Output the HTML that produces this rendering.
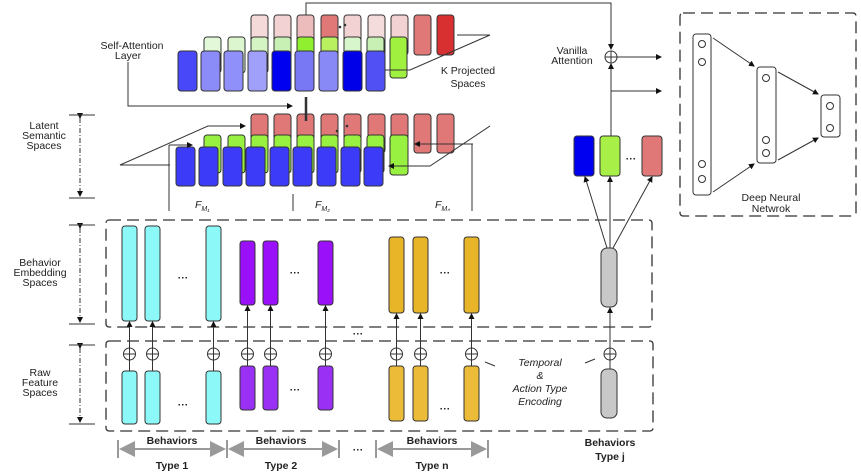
<!DOCTYPE html>
<html><head><style>body{margin:0;background:#fff}svg{display:block}text{font-family:"Liberation Sans",sans-serif;font-size:10.5px;fill:#222}</style></head><body>
<svg width="861" height="472" viewBox="0 0 861 472" xmlns="http://www.w3.org/2000/svg">
<defs><marker id="a" markerWidth="6" markerHeight="6" refX="5" refY="3" orient="auto"><path d="M0,0L6,3L0,6z" fill="#111"/></marker>
<marker id="g" markerWidth="8" markerHeight="8" refX="7" refY="4" orient="auto"><path d="M0,0L8,4L0,8z" fill="#999"/></marker>
<marker id="g2" markerWidth="8" markerHeight="8" refX="1" refY="4" orient="auto"><path d="M8,0L0,4L8,8z" fill="#999"/></marker>
<g id="p" stroke="#333" fill="#fff"><circle cx="0" cy="0" r="6"/><path d="M-6,0H6M0,-6V6"/></g></defs>
<g stroke="#333" stroke-width="1">
<g>
<rect x="251" y="15" width="17" height="40" rx="3" fill="#f5dada"/><rect x="274" y="15" width="17" height="40" rx="3" fill="#f2d2d2"/><rect x="297" y="15" width="17" height="40" rx="3" fill="#ecbcbc"/><rect x="321" y="15" width="17" height="40" rx="3" fill="#e07878"/><rect x="344" y="15" width="17" height="40" rx="3" fill="#f2d2d2"/><rect x="368" y="15" width="17" height="40" rx="3" fill="#f5dcdc"/><rect x="391" y="15" width="17" height="40" rx="3" fill="#f2d2d2"/><rect x="414" y="15" width="17" height="40" rx="3" fill="#e07878"/><rect x="437" y="15" width="17" height="40" rx="3" fill="#d83030"/>
<rect x="204" y="37" width="17" height="36" rx="3" fill="#e2f8d8"/><rect x="228" y="37" width="17" height="36" rx="3" fill="#dcf6d0"/><rect x="251" y="37" width="17" height="36" rx="3" fill="#d4f4c4"/><rect x="274" y="37" width="17" height="36" rx="3" fill="#c8f0b4"/><rect x="297" y="37" width="17" height="36" rx="3" fill="#90f030"/><rect x="321" y="37" width="17" height="36" rx="3" fill="#b8f060"/><rect x="344" y="37" width="17" height="36" rx="3" fill="#d8f6cc"/><rect x="367" y="37" width="17" height="36" rx="3" fill="#c8f0b4"/><rect x="390" y="37" width="17" height="41" rx="3" fill="#a0f040"/>
<rect x="178" y="51" width="19" height="40" rx="3" fill="#4848f8"/><rect x="201" y="51" width="19" height="40" rx="3" fill="#8c8cf8"/><rect x="224" y="51" width="19" height="40" rx="3" fill="#9090fa"/><rect x="248" y="51" width="19" height="40" rx="3" fill="#a0a0fa"/><rect x="272" y="51" width="19" height="40" rx="3" fill="#0000f0"/><rect x="295" y="51" width="19" height="40" rx="3" fill="#7878f4"/><rect x="319" y="51" width="19" height="40" rx="3" fill="#8888f6"/><rect x="343" y="51" width="19" height="40" rx="3" fill="#0000e8"/><rect x="366" y="51" width="19" height="40" rx="3" fill="#5050f4"/>
<polyline points="457,35 490,35 410,70 385,70" fill="none"/>
</g>
<g>
<rect x="251" y="114" width="17" height="39" rx="3" fill="#e07878"/><rect x="274" y="114" width="17" height="39" rx="3" fill="#e07878"/><rect x="297" y="114" width="17" height="39" rx="3" fill="#e07878"/><rect x="321" y="114" width="17" height="39" rx="3" fill="#e07878"/><rect x="344" y="114" width="17" height="39" rx="3" fill="#e07878"/><rect x="368" y="114" width="17" height="39" rx="3" fill="#e07878"/><rect x="391" y="114" width="17" height="39" rx="3" fill="#e07878"/><rect x="414" y="114" width="17" height="39" rx="3" fill="#e07878"/><rect x="437" y="114" width="17" height="39" rx="3" fill="#e07878"/>
<rect x="204" y="135" width="17" height="38" rx="3" fill="#98f040"/><rect x="228" y="135" width="17" height="38" rx="3" fill="#98f040"/><rect x="251" y="135" width="17" height="38" rx="3" fill="#98f040"/><rect x="274" y="135" width="17" height="38" rx="3" fill="#98f040"/><rect x="297" y="135" width="17" height="38" rx="3" fill="#98f040"/><rect x="321" y="135" width="17" height="38" rx="3" fill="#98f040"/><rect x="344" y="135" width="17" height="38" rx="3" fill="#98f040"/><rect x="367" y="135" width="17" height="38" rx="3" fill="#98f040"/><rect x="390" y="135" width="18" height="40" rx="3" fill="#98f040"/>
<rect x="176" y="147" width="19" height="39" rx="3" fill="#3c3cf8"/><rect x="199" y="147" width="19" height="39" rx="3" fill="#3c3cf8"/><rect x="223" y="147" width="19" height="39" rx="3" fill="#3c3cf8"/><rect x="246" y="147" width="19" height="39" rx="3" fill="#3c3cf8"/><rect x="270" y="147" width="19" height="39" rx="3" fill="#3c3cf8"/><rect x="293" y="147" width="19" height="39" rx="3" fill="#3c3cf8"/><rect x="317" y="147" width="19" height="39" rx="3" fill="#3c3cf8"/><rect x="341" y="147" width="19" height="39" rx="3" fill="#3c3cf8"/><rect x="364" y="147" width="19" height="39" rx="3" fill="#3c3cf8"/>
<polyline points="170,165 120,165 208,126 245,126" fill="none" marker-end="url(#a)"/>
<line x1="169" y1="145" x2="192" y2="145" marker-end="url(#a)"/>
<polyline points="490,126 430,166 389,166" fill="none" marker-end="url(#a)"/>
<line x1="473" y1="144" x2="415" y2="144" marker-end="url(#a)"/>
<line x1="169" y1="145" x2="169" y2="211"/><line x1="293" y1="194" x2="293" y2="211"/><line x1="472" y1="144" x2="472" y2="211"/>
</g>
<polyline points="128,62 128,106 292,106" fill="none" marker-end="url(#a)"/>
<line x1="306" y1="97" x2="306" y2="121" stroke-width="2.5"/>
<polyline points="306,15 306,3 611,3 611,49" fill="none" marker-end="url(#a)"/>
<g stroke-dasharray="5,2,1,2"><line x1="80" y1="118" x2="80" y2="196" marker-end="url(#a)" marker-start="url(#a)"/><line x1="80" y1="228" x2="80" y2="322" marker-end="url(#a)" marker-start="url(#a)"/><line x1="80" y1="348" x2="80" y2="422" marker-end="url(#a)" marker-start="url(#a)"/></g>
<g><line x1="69" y1="115" x2="95" y2="115"/><line x1="69" y1="198" x2="95" y2="198"/><line x1="69" y1="225" x2="95" y2="225"/><line x1="69" y1="324" x2="95" y2="324"/><line x1="69" y1="345" x2="95" y2="345"/><line x1="69" y1="424" x2="95" y2="424"/></g>
<g fill="none" stroke-dasharray="12,6" stroke-width="1.3"><rect x="106" y="220" width="546" height="107" rx="3"/><rect x="106" y="341" width="547" height="90" rx="3"/><rect x="680" y="13" width="176" height="203" rx="3"/></g>
<g>
<rect x="122" y="226" width="15" height="95" rx="3" fill="#8cf8f8"/><rect x="145" y="226" width="15" height="95" rx="3" fill="#8cf8f8"/><rect x="206" y="226" width="15" height="95" rx="3" fill="#8cf8f8"/>
<rect x="122" y="371" width="15" height="53" rx="3" fill="#8cf8f8"/><rect x="145" y="371" width="15" height="53" rx="3" fill="#8cf8f8"/><rect x="206" y="371" width="15" height="53" rx="3" fill="#8cf8f8"/>
<rect x="240" y="241" width="15" height="64" rx="3" fill="#9a10f8"/><rect x="263" y="241" width="15" height="64" rx="3" fill="#9a10f8"/><rect x="318" y="241" width="15" height="64" rx="3" fill="#9a10f8"/>
<rect x="240" y="366" width="15" height="44" rx="3" fill="#9a30f4"/><rect x="263" y="366" width="15" height="44" rx="3" fill="#9a30f4"/><rect x="318" y="366" width="15" height="44" rx="3" fill="#9a30f4"/>
<rect x="389" y="237" width="15" height="76" rx="3" fill="#e8b428"/><rect x="413" y="237" width="15" height="76" rx="3" fill="#e8b428"/><rect x="464" y="237" width="15" height="76" rx="3" fill="#e8b428"/>
<rect x="389" y="366" width="15" height="55" rx="3" fill="#ecbc38"/><rect x="413" y="366" width="15" height="55" rx="3" fill="#ecbc38"/><rect x="464" y="366" width="15" height="55" rx="3" fill="#ecbc38"/>
</g>
<g>
<line x1="129.5" y1="348" x2="129.5" y2="322" marker-end="url(#a)"/><line x1="152.5" y1="348" x2="152.5" y2="322" marker-end="url(#a)"/><line x1="213.5" y1="348" x2="213.5" y2="322" marker-end="url(#a)"/>
<line x1="247.5" y1="348" x2="247.5" y2="306" marker-end="url(#a)"/><line x1="270.5" y1="348" x2="270.5" y2="306" marker-end="url(#a)"/><line x1="325.5" y1="348" x2="325.5" y2="306" marker-end="url(#a)"/>
<line x1="396.5" y1="348" x2="396.5" y2="314" marker-end="url(#a)"/><line x1="420.5" y1="348" x2="420.5" y2="314" marker-end="url(#a)"/><line x1="471.5" y1="348" x2="471.5" y2="314" marker-end="url(#a)"/>
<line x1="129.5" y1="360" x2="129.5" y2="371"/><line x1="152.5" y1="360" x2="152.5" y2="371"/><line x1="213.5" y1="360" x2="213.5" y2="371"/><line x1="247.5" y1="360" x2="247.5" y2="366"/><line x1="270.5" y1="360" x2="270.5" y2="366"/><line x1="325.5" y1="360" x2="325.5" y2="366"/><line x1="396.5" y1="360" x2="396.5" y2="366"/><line x1="420.5" y1="360" x2="420.5" y2="366"/><line x1="471.5" y1="360" x2="471.5" y2="366"/>
<use href="#p" x="129.5" y="354"/><use href="#p" x="152.5" y="354"/><use href="#p" x="213.5" y="354"/><use href="#p" x="247.5" y="354"/><use href="#p" x="270.5" y="354"/><use href="#p" x="325.5" y="354"/><use href="#p" x="396.5" y="354"/><use href="#p" x="420.5" y="354"/><use href="#p" x="471.5" y="354"/><use href="#p" x="610" y="354"/><use href="#p" x="611" y="57"/>
</g>
<rect x="601" y="248" width="16" height="59" rx="6" fill="#c8c8c8"/><rect x="601" y="369" width="16" height="49" rx="6" fill="#c8c8c8"/>
<line x1="610" y1="348" x2="610" y2="308" marker-end="url(#a)"/><line x1="610" y1="360" x2="610" y2="369"/>
<rect x="574" y="136" width="20" height="40" rx="3" fill="#0000f0"/><rect x="600" y="136" width="20" height="40" rx="3" fill="#a8f048"/><rect x="642" y="136" width="20" height="40" rx="3" fill="#e07878"/>
<line x1="607" y1="248" x2="585" y2="177" marker-end="url(#a)"/><line x1="610" y1="248" x2="610" y2="177" marker-end="url(#a)"/><line x1="613" y1="248" x2="652" y2="177" marker-end="url(#a)"/>
<line x1="611" y1="136" x2="611" y2="64" marker-end="url(#a)"/>
<line x1="611" y1="91" x2="661" y2="91" marker-end="url(#a)"/><line x1="617" y1="57" x2="661" y2="57" marker-end="url(#a)"/>
<rect x="693" y="34" width="18" height="161" rx="3" fill="#fff"/><rect x="757" y="67" width="19" height="96" rx="3" fill="#fff"/><rect x="821" y="95" width="19" height="42" rx="3" fill="#fff"/>
<g fill="#fff"><circle cx="702" cy="44" r="3.5"/><circle cx="702" cy="62" r="3.5"/><circle cx="702" cy="164" r="3.5"/><circle cx="702" cy="179" r="3.5"/><circle cx="766" cy="78" r="3.5"/><circle cx="766" cy="140" r="3.5"/><circle cx="766" cy="153" r="3.5"/><circle cx="830" cy="106" r="3.5"/><circle cx="830" cy="128" r="3.5"/></g>
<line x1="713" y1="38" x2="754" y2="66" marker-end="url(#a)"/><line x1="713" y1="192" x2="754" y2="164" marker-end="url(#a)"/><line x1="778" y1="72" x2="818" y2="94" marker-end="url(#a)"/><line x1="778" y1="160" x2="818" y2="138" marker-end="url(#a)"/>
<line x1="485" y1="362" x2="495" y2="366"/><line x1="585" y1="363" x2="595" y2="359"/>
<g stroke="#999" stroke-width="2"><line x1="118" y1="440" x2="118" y2="458"/><line x1="227" y1="440" x2="227" y2="458"/><line x1="339" y1="440" x2="339" y2="458"/><line x1="376" y1="440" x2="376" y2="458"/><line x1="488" y1="440" x2="488" y2="458"/>
<line x1="121" y1="449" x2="224" y2="449" marker-end="url(#g)" marker-start="url(#g2)"/><line x1="230" y1="449" x2="336" y2="449" marker-end="url(#g)" marker-start="url(#g2)"/><line x1="379" y1="449" x2="485" y2="449" marker-end="url(#g)" marker-start="url(#g2)"/></g>
</g>
<g fill="#333"><circle cx="340" cy="27" r="1.3"/><circle cx="345" cy="25" r="1.3"/><circle cx="337" cy="131" r="1.3"/><circle cx="347" cy="126" r="1.3"/></g>
<text x="132" y="49" text-anchor="middle">Self-Attention</text><text x="128" y="59" text-anchor="middle">Layer</text>
<text x="468" y="74" text-anchor="middle" font-size="12.5">K Projected</text><text x="468" y="87" text-anchor="middle" font-size="12.5">Spaces</text>
<text x="44" y="129" text-anchor="middle">Latent</text><text x="44" y="139" text-anchor="middle">Semantic</text><text x="44" y="149" text-anchor="middle">Spaces</text>
<text x="40" y="266" text-anchor="middle">Behavior</text><text x="40" y="276" text-anchor="middle">Embedding</text><text x="40" y="286" text-anchor="middle">Spaces</text>
<text x="40" y="376" text-anchor="middle">Raw</text><text x="40" y="386" text-anchor="middle">Feature</text><text x="40" y="396" text-anchor="middle">Spaces</text>
<text x="195" y="208" font-style="italic">F<tspan font-size="7" dy="3">M₁</tspan></text>
<text x="315" y="208" font-style="italic">F<tspan font-size="7" dy="3">M₂</tspan></text>
<text x="435" y="208" font-style="italic">F<tspan font-size="7" dy="3">Mₙ</tspan></text>
<g font-size="14" font-weight="bold" text-anchor="middle"><text x="183" y="281">···</text><text x="295" y="276">···</text><text x="445" y="276">···</text><text x="183" y="408">···</text><text x="295" y="393">···</text><text x="445" y="412">···</text><text x="358" y="337">···</text><text x="358" y="453">···</text><text x="631" y="162">···</text></g>
<g font-weight="bold" text-anchor="middle"><text x="172" y="444">Behaviors</text><text x="172" y="469">Type 1</text><text x="281" y="444">Behaviors</text><text x="281" y="469">Type 2</text><text x="432" y="444">Behaviors</text><text x="432" y="469">Type n</text><text x="610" y="446">Behaviors</text><text x="610" y="460">Type j</text></g>
<g font-style="italic" font-size="12.5" text-anchor="middle"><text x="540" y="366">Temporal</text><text x="540" y="379">&amp;</text><text x="540" y="392">Action Type</text><text x="540" y="405">Encoding</text></g>
<text x="572" y="54" text-anchor="middle">Vanilla</text><text x="572" y="64" text-anchor="middle">Attention</text>
<text x="771" y="201" text-anchor="middle">Deep Neural</text><text x="771" y="212" text-anchor="middle">Netwrok</text>
</svg>
</body></html>
